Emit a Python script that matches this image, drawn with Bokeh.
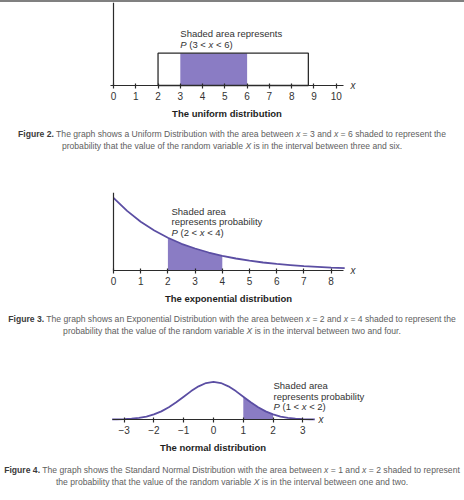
from bokeh.plotting import figure
from bokeh.models import Range1d, FixedTicker, Label, Div
from bokeh.layouts import column
from bokeh.embed import file_html
from bokeh.resources import INLINE

FONT = "Liberation Sans"
FILL = "#8a7cc4"
CURVE = "#5b4ea3"
INK = "#2b2b2b"
W = 464

# ---------------- data ----------------
# Uniform distribution
uniform_ticks = [0, 1, 2, 3, 4, 5, 6, 7, 8, 9, 10]
uniform_support = [2, 8.75]
uniform_density = 0.148
uniform_shaded = [3, 6]
uniform_note = ["Shaded area represents"]
uniform_prob = ["P", " (3 < ", "x", " < 6)"]

# Exponential distribution
exp_ticks = [0, 1, 2, 3, 4, 5, 6, 7, 8]
exp_x = [0, 0.5, 1, 1.5, 2, 2.5, 3, 3.5, 4, 4.5, 5, 5.5, 6, 6.5, 7, 7.5, 8, 8.5]
exp_y = [0.400, 0.328, 0.268, 0.220, 0.180, 0.147, 0.121, 0.099, 0.081, 0.066,
         0.054, 0.044, 0.036, 0.030, 0.024, 0.020, 0.016, 0.013]
exp_shaded = [2, 4]
exp_note = ["Shaded area", "represents probability"]
exp_prob = ["P", " (2 < ", "x", " < 4)"]

# Normal distribution
normal_ticks = [-3, -2, -1, 0, 1, 2, 3]
normal_tick_labels = ["\u22123", "\u22122", "\u22121", "0", "1", "2", "3"]
normal_x = [-3.4, -3.25, -3, -2.75, -2.5, -2.25, -2, -1.75, -1.5, -1.25, -1, -0.75, -0.5, -0.25,
            0, 0.25, 0.5, 0.75, 1, 1.25, 1.5, 1.75, 2, 2.25, 2.5, 2.75, 3, 3.25, 3.4]
normal_y = [0.0012, 0.0020, 0.0044, 0.0091, 0.0175, 0.0317, 0.0540, 0.0863, 0.1295, 0.1826, 0.2420,
            0.3011, 0.3521, 0.3867, 0.3989, 0.3867, 0.3521, 0.3011, 0.2420, 0.1826, 0.1295, 0.0863,
            0.0540, 0.0317, 0.0175, 0.0091, 0.0044, 0.0020, 0.0012]
normal_shaded = [1, 2]
normal_note = ["Shaded area", "represents probability"]
normal_prob = ["P", " (1 < ", "x", " < 2)"]

titles = ["The uniform distribution", "The exponential distribution", "The normal distribution"]

captions = [
    '<b style="color:#3a3a3a">Figure 2.</b> The graph shows a Uniform Distribution with the area between <i>x</i> = 3 and <i>x</i> = 6 shaded to represent the<br>probability that the value of the random variable <i>X</i> is in the interval between three and six.',
    '<b style="color:#3a3a3a">Figure 3.</b> The graph shows an Exponential Distribution with the area between <i>x</i> = 2 and <i>x</i> = 4 shaded to represent the<br>probability that the value of the random variable <i>X</i> is in the interval between two and four.',
    '<b style="color:#3a3a3a">Figure 4.</b> The graph shows the Standard Normal Distribution with the area between <i>x</i> = 1 and <i>x</i> = 2 shaded to represent<br>the probability that the value of the random variable <i>X</i> is in the interval between one and two.',
]

# Arial/Liberation advance widths (per 1000 em) for the probability labels
ADV = {" ": 278, "(": 333, ")": 333, "<": 584, "P": 667, "x": 500}
for d in "0123456789":
    ADV[d] = 556
FS = 9.5
FRAME_LEFT = 100          # page x of every frame's left edge


def width_px(s):
    return sum(ADV.get(c, 556) for c in s) * FS / 1000.0


def panel(height, top, axis_y, frame_top, xscale, x0_px, yk, ticks, title, xbounds,
          show_y=True, overrides=None):
    """top: page y of figure; axis_y: page y of x axis; frame_top: page y of frame top;
    xscale: px per unit; x0_px: page x of value 0; yk: px per y unit"""
    min_top = frame_top - top
    frame_h = height - min_top
    below = frame_h - (axis_y - frame_top)
    xs = (FRAME_LEFT - x0_px) / xscale
    xe = xs + (W - FRAME_LEFT) / xscale
    ys = -below / yk
    ye = (axis_y - frame_top) / yk
    p = figure(width=W, height=height, x_range=Range1d(xs, xe), y_range=Range1d(ys, ye),
               min_border_left=FRAME_LEFT, min_border_right=0, min_border_top=min_top,
               min_border_bottom=0, output_backend="svg", toolbar_location=None)
    p.outline_line_color = None
    p.grid.visible = False
    p.background_fill_color = "white"
    p.border_fill_color = "white"
    ax = p.xaxis[0]
    ax.fixed_location = 0
    ax.bounds = xbounds
    ax.ticker = FixedTicker(ticks=ticks)
    if overrides:
        ax.major_label_overrides = overrides
    ax.axis_line_color = INK
    ax.axis_line_width = 1.2
    ax.major_tick_line_color = INK
    ax.major_tick_line_width = 1.2
    ax.major_tick_in = 2
    ax.major_tick_out = 3
    ax.minor_tick_line_color = None
    ax.major_label_text_font = FONT
    ax.major_label_text_font_size = "10px"
    ax.major_label_text_color = "#333333"
    ax.major_label_standoff = 3
    ax.axis_label = title
    ax.axis_label_text_font = FONT
    ax.axis_label_text_font_size = "9.5px"
    ax.axis_label_text_font_style = "bold"
    ax.axis_label_text_color = "#1e1e1e"
    ax.axis_label_standoff = 5
    ya = p.yaxis[0]
    if show_y:
        ya.fixed_location = 0
        ya.bounds = (0, ye)
        ya.ticker = FixedTicker(ticks=[])
        ya.axis_line_color = INK
        ya.axis_line_width = 1.2
        ya.major_tick_line_color = None
        ya.minor_tick_line_color = None
    else:
        ya.visible = False
    ylab = lambda ypx: (axis_y - ypx) / yk
    xlab = lambda xpx: (xpx - x0_px) / xscale
    return p, xlab, ylab


def add_text(p, x, y, text, italic=False, dx=0, size="9.5px"):
    p.add_layout(Label(x=x, y=y, x_offset=dx, text=text.replace(" ", "\u00a0"), text_font=FONT,
                       text_font_size=size, text_font_style="italic" if italic else "normal",
                       text_color="#333333", text_baseline="middle", text_align="left"))


def add_prob(p, x, y, parts):
    dx = 0
    for i, part in enumerate(parts):
        add_text(p, x, y, part, italic=(i % 2 == 0), dx=dx)
        dx += width_px(part)


def caption(html, height, pad, lh=12):
    return Div(text=('<div style="width:%dpx;text-align:center;white-space:nowrap;'
                     "font-family:'Liberation Sans',Arial,sans-serif;font-size:8.6px;"
                     'line-height:%spx;color:#5e5e5e;padding-top:%dpx">%s</div>') % (W, lh, pad, html),
               width=W, height=height, margin=0)


# ---------------- panel 1: uniform ----------------
k1 = 32.3 / uniform_density
p1, xl1, yl1 = panel(119, 2, 85, 2, 22.27, 113, k1, uniform_ticks, titles[0],
                     ((110 - 113) / 22.27, (343 - 113) / 22.27))
p1.quad(left=[uniform_shaded[0]], right=[uniform_shaded[1]], bottom=[0], top=[uniform_density],
        fill_color=FILL, line_color=None)
p1.quad(left=[uniform_support[0]], right=[uniform_support[1]], bottom=[0], top=[uniform_density],
        fill_color=None, line_color=INK, line_width=1.3)
add_text(p1, uniform_shaded[0], yl1(33), uniform_note[0])
add_prob(p1, uniform_shaded[0], yl1(43.5), uniform_prob)
add_text(p1, xl1(350), 0, "x", italic=True, size="10px")

# ---------------- panel 2: exponential ----------------
k2 = 72.7 / exp_y[0]
p2, xl2, yl2 = panel(145, 161, 270, 192, 27.2, 113, k2, exp_ticks, titles[1],
                     (0, (343 - 113) / 27.2))
sx = [x for x in exp_x if exp_shaded[0] <= x <= exp_shaded[1]]
sy = [y for x, y in zip(exp_x, exp_y) if exp_shaded[0] <= x <= exp_shaded[1]]
p2.varea(x=sx, y1=[0] * len(sx), y2=sy, fill_color=FILL)
p2.line(exp_x, exp_y, line_color=CURVE, line_width=1.8)
add_text(p2, xl2(171), yl2(210.7), exp_note[0])
add_text(p2, xl2(171), yl2(221), exp_note[1])
add_prob(p2, xl2(171), yl2(231.5), exp_prob)
add_text(p2, xl2(350), 0, "x", italic=True, size="10px")

# ---------------- panel 3: normal ----------------
k3 = 37.6 / 0.3989
p3, xl3, yl3 = panel(109, 346, 419, 346, 29.8, 213, k3, normal_ticks, titles[2],
                     ((112 - 213) / 29.8, (313 - 213) / 29.8), show_y=False,
                     overrides={t: l for t, l in zip(normal_ticks, normal_tick_labels)})
sx = [x for x in normal_x if normal_shaded[0] <= x <= normal_shaded[1]]
sy = [y for x, y in zip(normal_x, normal_y) if normal_shaded[0] <= x <= normal_shaded[1]]
p3.varea(x=sx, y1=[0] * len(sx), y2=sy, fill_color=FILL)
p3.line(normal_x, normal_y, line_color=CURVE, line_width=1.8)
add_text(p3, xl3(273), yl3(385), normal_note[0])
add_text(p3, xl3(273), yl3(395.7), normal_note[1])
add_prob(p3, xl3(273), yl3(406), normal_prob)
add_text(p3, xl3(318), 0, "x", italic=True, size="10px")

band = Div(text="", width=W, height=2, margin=0, styles={"background-color": "#808080"})

layout = column(band, p1, caption(captions[0], 40, 7), p2, caption(captions[1], 40, 7),
                p3, caption(captions[2], 45, 10, 11.5), spacing=0)

open("out.html", "w").write(file_html(layout, INLINE))
